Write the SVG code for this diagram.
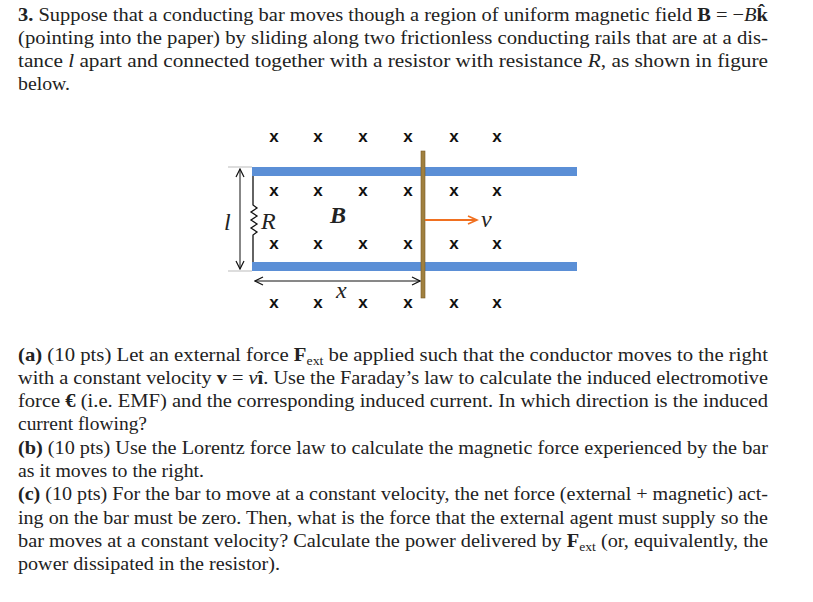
<svg xmlns="http://www.w3.org/2000/svg" width="813" height="602" viewBox="0 0 813 602">
<style>
.t{font-family:"Liberation Serif","DejaVu Serif",serif;font-size:19.5px;fill:#222}
.b{font-weight:bold}
.i{font-style:italic}
.x{font-family:"Liberation Sans",Arial,sans-serif;font-size:17px;font-weight:bold;fill:#111;text-anchor:middle}
.rail{fill:#5b8fd6}
</style>
<defs>
<marker id="ah" markerWidth="10" markerHeight="10" refX="9" refY="5" orient="auto-start-reverse" markerUnits="userSpaceOnUse"><path d="M1,1 L9,5 L1,9" fill="none" stroke="#111" stroke-width="1.2"/></marker>
<marker id="oa" markerWidth="12" markerHeight="10" refX="10" refY="5" orient="auto" markerUnits="userSpaceOnUse"><path d="M1,1 L10,5 L1,9" fill="none" stroke="#f07020" stroke-width="1.8"/></marker>
</defs>
<rect width="813" height="602" fill="#fff"/>
<g id="text-top">
<text class="t" x="18" y="21" textLength="750" lengthAdjust="spacingAndGlyphs"><tspan class="b">3.</tspan> Suppose that a conducting bar moves though a region of uniform magnetic field <tspan class="b">B</tspan> = −<tspan class="i">B</tspan><tspan class="b">k̂</tspan></text>
<text class="t" x="18" y="44" textLength="750" lengthAdjust="spacingAndGlyphs">(pointing into the paper) by sliding along two frictionless conducting rails that are at a dis-</text>
<text class="t" x="18" y="67" textLength="750" lengthAdjust="spacingAndGlyphs">tance <tspan class="i">l</tspan> apart and connected together with a resistor with resistance <tspan class="i">R</tspan>, as shown in figure</text>
<text class="t" x="18" y="90" textLength="52" lengthAdjust="spacingAndGlyphs">below.</text>
</g>
<g id="field">
<g class="x">
<text x="274" y="142">x</text><text x="318" y="142">x</text><text x="363" y="142">x</text><text x="408" y="142">x</text><text x="454" y="142">x</text><text x="497" y="142">x</text>
<text x="274" y="196">x</text><text x="318" y="196">x</text><text x="363" y="196">x</text><text x="408" y="196">x</text><text x="454" y="196">x</text><text x="497" y="196">x</text>
<text x="274" y="249">x</text><text x="318" y="249">x</text><text x="363" y="249">x</text><text x="408" y="249">x</text><text x="454" y="249">x</text><text x="497" y="249">x</text>
<text x="274" y="308">x</text><text x="318" y="308">x</text><text x="363" y="308">x</text><text x="408" y="308">x</text><text x="454" y="308">x</text><text x="497" y="308">x</text>
</g>
</g>
<g id="rails">
<rect class="rail" x="252" y="167" width="325" height="9"/>
<rect class="rail" x="252" y="262" width="325" height="9"/>
</g>
<g id="resistor">
<path d="M253,176 V205 l4,3 l-6,4 l6,4 l-6,4 l6,4 l-6,4 l6,4 l-4,3 V262" fill="none" stroke="#111" stroke-width="1.3"/>
<text class="t i" x="261" y="229" style="font-size:24px">R</text>
</g>
<g id="bar">
<rect x="421" y="151" width="4" height="147" fill="#a0803f" stroke="#7a5a25" stroke-width="0.6"/>
</g>
<g id="connectors">
<line x1="228" y1="167" x2="252" y2="167" stroke="#bbb" stroke-width="1"/>
<line x1="228" y1="271" x2="252" y2="271" stroke="#bbb" stroke-width="1"/>
<line x1="240" y1="169" x2="240" y2="269" stroke="#111" stroke-width="1" marker-start="url(#ah)" marker-end="url(#ah)"/>
<line x1="255" y1="281" x2="420" y2="281" stroke="#111" stroke-width="1" marker-start="url(#ah)" marker-end="url(#ah)"/>
<line x1="425" y1="220" x2="477" y2="220" stroke="#f07020" stroke-width="2" marker-end="url(#oa)"/>
</g>
<g id="labels">
<text class="t i" x="224" y="230" style="font-size:24px">l</text>
<text class="t b i" x="330" y="223" style="font-size:24px">B</text>
<text class="t i" x="481" y="227" style="font-size:24px">v</text>
<text class="t i" x="336" y="298" style="font-size:24px">x</text>
</g>
<g id="text-bottom">
<text class="t" x="18" y="361" textLength="750" lengthAdjust="spacingAndGlyphs"><tspan class="b">(a)</tspan> (10 pts) Let an external force <tspan class="b">F</tspan><tspan font-size="13" dy="4">ext</tspan><tspan dy="-4"> be applied such that the conductor moves to the right</tspan></text>
<text class="t" x="18" y="384" textLength="750" lengthAdjust="spacingAndGlyphs">with a constant velocity <tspan class="b">v</tspan> = <tspan class="i">v</tspan><tspan class="b">î</tspan>. Use the Faraday’s law to calculate the induced electromotive</text>
<text class="t" x="18" y="407" textLength="750" lengthAdjust="spacingAndGlyphs">force <tspan class="b">€</tspan> (i.e. EMF) and the corresponding induced current. In which direction is the induced</text>
<text class="t" x="18" y="430" textLength="129" lengthAdjust="spacingAndGlyphs">current flowing?</text>
<text class="t" x="18" y="454" textLength="750" lengthAdjust="spacingAndGlyphs"><tspan class="b">(b)</tspan> (10 pts) Use the Lorentz force law to calculate the magnetic force experienced by the bar</text>
<text class="t" x="18" y="477" textLength="186" lengthAdjust="spacingAndGlyphs">as it moves to the right.</text>
<text class="t" x="18" y="500" textLength="750" lengthAdjust="spacingAndGlyphs"><tspan class="b">(c)</tspan> (10 pts) For the bar to move at a constant velocity, the net force (external + magnetic) act-</text>
<text class="t" x="18" y="524" textLength="750" lengthAdjust="spacingAndGlyphs">ing on the bar must be zero. Then, what is the force that the external agent must supply so the</text>
<text class="t" x="18" y="547" textLength="750" lengthAdjust="spacingAndGlyphs">bar moves at a constant velocity? Calculate the power delivered by <tspan class="b">F</tspan><tspan font-size="13" dy="4">ext</tspan><tspan dy="-4"> (or, equivalently, the</tspan></text>
<text class="t" x="18" y="570" textLength="262" lengthAdjust="spacingAndGlyphs">power dissipated in the resistor).</text>
</g>
</svg>
